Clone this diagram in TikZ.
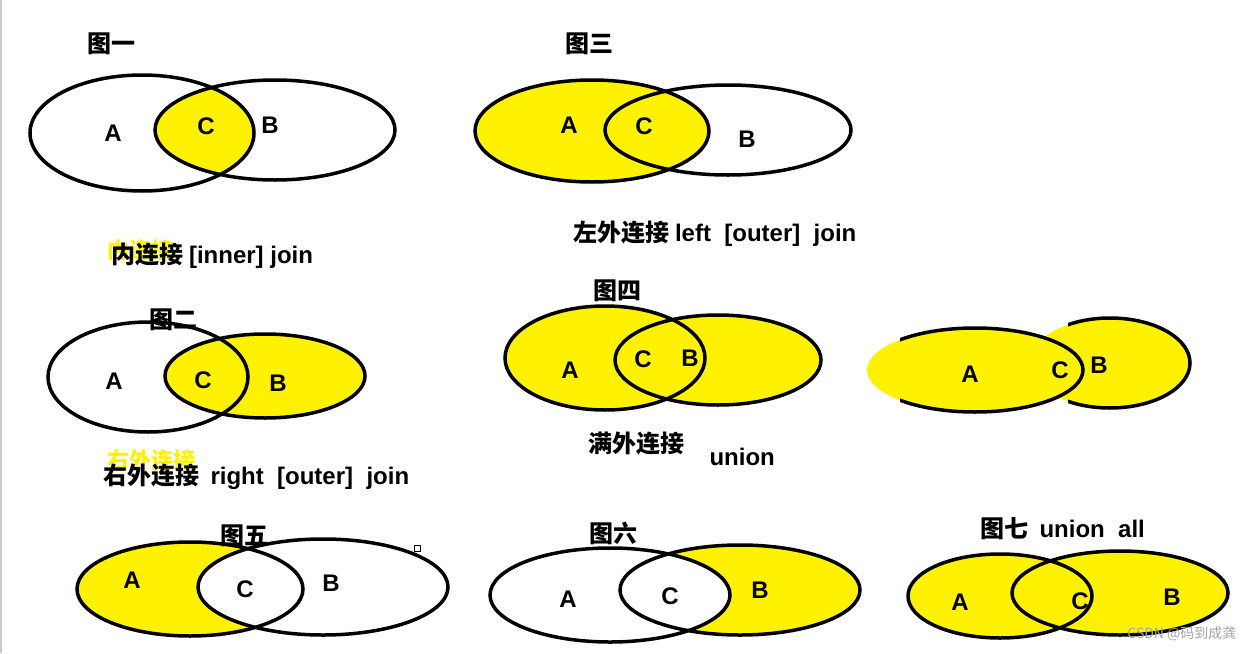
\documentclass[tikz,border=0pt]{standalone}
\usepackage{fontspec}
\setmainfont{Liberation Sans}
\newfontfamily\cjk{Noto Sans CJK SC}
\definecolor{yel}{RGB}{255,242,0}
\begin{document}
\begin{tikzpicture}[x=1pt,y=-1pt,
  ring/.style={draw=black,line width=3.5pt},
  lbl/.style={font=\fontsize{24}{26}\selectfont\bfseries},
  captxt/.style={font=\fontsize{24}{26}\selectfont\bfseries\cjk,anchor=west},
  ghost/.style={font=\fontsize{22}{24}\selectfont\bfseries\cjk,text=yel,anchor=west}]
\useasboundingbox (0,0) rectangle (1255,653);
\fill[white] (0,0) rectangle (1255,653);
\draw[gray!40,line width=2pt] (1,0) -- (1,653);
% Fig1
\begin{scope}
\clip (142,133) ellipse [x radius=112,y radius=58];
\fill[yel] (275,130) ellipse [x radius=120,y radius=50];
\end{scope}
\draw[ring] (142,133) ellipse [x radius=112,y radius=58];
\draw[ring] (275,130) ellipse [x radius=120,y radius=50];
\node[lbl] (a1) at (113,133) {A}; \node[lbl] (c1) at (206,126) {C}; \node[lbl] (b1) at (270,125) {B};
\node[captxt] (t1) at (84,44) {图一};
% Fig3
\fill[yel] (592,131) ellipse [x radius=117,y radius=51];
\draw[ring] (592,131) ellipse [x radius=117,y radius=51];
\draw[ring] (728,130) ellipse [x radius=123,y radius=45];
\node[lbl] (a3) at (569,125) {A}; \node[lbl] (c3) at (644,126) {C}; \node[lbl] (b3) at (747,139) {B};
\node[captxt] (t3) at (562,44) {图三};
\node[captxt] (l3) at (570,234) {左外连接 {\rmfamily\bfseries left\ \ [outer]\ \ join}};
% Fig1 caption
\node[ghost] (g1) at (104,250) {内连接};
\node[captxt] (l1) at (108,256) {内连接 {\rmfamily\bfseries [inner] join}};
% Fig2
\fill[yel] (265,376) ellipse [x radius=100,y radius=42];
\draw[ring] (148,377) ellipse [x radius=100,y radius=55];
\draw[ring] (265,376) ellipse [x radius=100,y radius=42];
\node[lbl] (a2) at (114,381) {A}; \node[lbl] (c2) at (203,380) {C}; \node[lbl] (b2) at (278,383) {B};
\node[captxt] (t2) at (146,320) {图二};
\node[ghost] (g2) at (104,460) {右外连接};
\node[captxt] (l2) at (100,477) {右外连接\ \ {\rmfamily\bfseries right\ \ [outer]\ \ join}};
% Fig4
\fill[yel] (605,358) ellipse [x radius=100,y radius=52];
\fill[yel] (718,360) ellipse [x radius=103,y radius=45];
\draw[ring] (605,358) ellipse [x radius=100,y radius=52];
\draw[ring] (718,360) ellipse [x radius=103,y radius=45];
\node[lbl] (a4) at (570,370) {A}; \node[lbl] (c4) at (643,359) {C}; \node[lbl] (b4) at (690,358) {B};
\node[captxt] (t4) at (590,291) {图四};
\node[captxt] (l4) at (585,444) {满外连接};
\node[lbl,anchor=west] (u4) at (706,457) {union};
% Fig4b
\fill[yel] (975,370) ellipse [x radius=108,y radius=42];
\fill[yel] (1110,363) ellipse [x radius=80,y radius=45];
\begin{scope}
\clip (900,300) rectangle (1255,430);
\draw[ring] (975,370) ellipse [x radius=108,y radius=42];
\end{scope}
\begin{scope}
\clip (1068,300) rectangle (1255,430);
\draw[ring] (1110,363) ellipse [x radius=80,y radius=45];
\end{scope}
\node[lbl] (a4b) at (970,374) {A}; \node[lbl] (c4b) at (1060,370) {C}; \node[lbl] (b4b) at (1099,365) {B};
% Fig5
\fill[yel] (190,589) ellipse [x radius=113,y radius=47];
\begin{scope}
\clip (190,589) ellipse [x radius=113,y radius=47];
\fill[white] (323,587) ellipse [x radius=125,y radius=48];
\end{scope}
\draw[ring] (190,589) ellipse [x radius=113,y radius=47];
\draw[ring] (323,587) ellipse [x radius=125,y radius=48];
\node[lbl] (a5) at (132,580) {A}; \node[lbl] (c5) at (245,589) {C}; \node[lbl] (b5) at (331,583) {B};
\node[captxt] (t5) at (217,536) {图五};
\draw[black,line width=0.6pt] (414,545) rectangle (420,551);
% Fig6
\fill[yel] (740,590) ellipse [x radius=120,y radius=45];
\begin{scope}
\clip (740,590) ellipse [x radius=120,y radius=45];
\fill[white] (610,595) ellipse [x radius=120,y radius=47];
\end{scope}
\draw[ring] (610,595) ellipse [x radius=120,y radius=47];
\draw[ring] (740,590) ellipse [x radius=120,y radius=45];
\node[lbl] (a6) at (568,599) {A}; \node[lbl] (c6) at (670,596) {C}; \node[lbl] (b6) at (760,590) {B};
\node[captxt] (t6) at (586,533) {图六};
% Fig7
\fill[yel] (1000,596) ellipse [x radius=92,y radius=42];
\fill[yel] (1120,593) ellipse [x radius=108,y radius=42];
\draw[ring] (1000,596) ellipse [x radius=92,y radius=42];
\draw[ring] (1120,593) ellipse [x radius=108,y radius=42];
\node[lbl] (a7) at (960,602) {A}; \node[lbl] (c7) at (1080,601) {C}; \node[lbl] (b7) at (1172,597) {B};
\node[captxt] (t7) at (977,529) {图七\ \ {\rmfamily\bfseries union\ \ all}};
\node[font=\fontsize{14}{16}\selectfont\cjk,text=gray!70,anchor=east] (wm) at (1240,634) {CSDN @码到成龚};
\end{tikzpicture}
\end{document}
